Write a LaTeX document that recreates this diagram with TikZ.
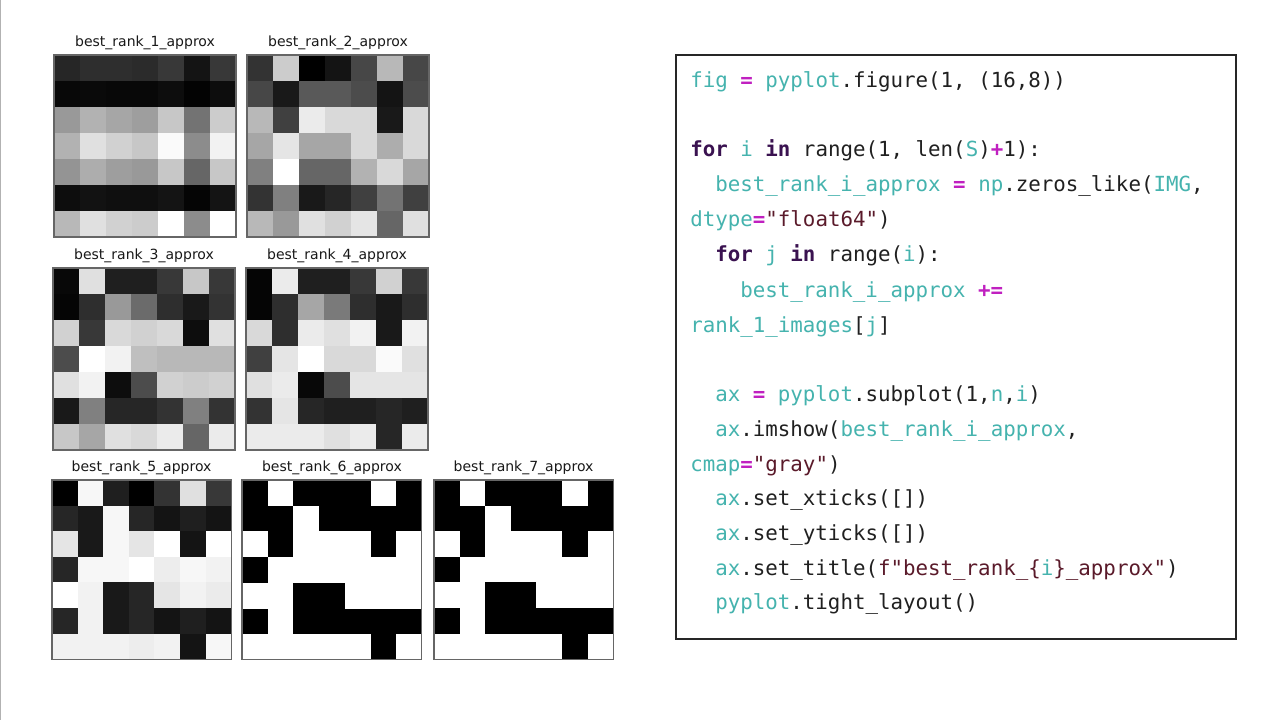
\documentclass[tikz,border=0pt]{standalone}
\usepackage{fontspec}
\setmainfont{DejaVu Sans}
\setmonofont{DejaVu Sans Mono}
\definecolor{cteal}{HTML}{45B3AE}
\definecolor{cmag}{HTML}{C020C0}
\definecolor{ckw}{HTML}{3A1250}
\definecolor{cstr}{HTML}{5A1A2A}
\definecolor{cpl}{HTML}{202020}
\newcommand\Tl[1]{\textcolor{cteal}{#1}}
\newcommand\Mg[1]{\textcolor{cmag}{\bfseries #1}}
\newcommand\Kw[1]{\textcolor{ckw}{\bfseries #1}}
\newcommand\Sr[1]{\textcolor{cstr}{#1}}
\newcommand\mygrid[6]{%
  \foreach \v [count=\k from 0] in {#6} {
    \pgfmathtruncatemacro\rr{\k/7}
    \pgfmathtruncatemacro\cc{mod(\k,7)}
    \pgfmathtruncatemacro\bb{100-\v}
    \fill[black!\bb] ({#3+\cc*#5},{#4+\rr*#5}) rectangle ({#3+(\cc+1)*#5},{#4+(\rr+1)*#5});
  }
  \node[gridframe, minimum width=7*#5*0.75pt, minimum height=7*#5*0.75pt] (#1) at ({#3+3.5*#5},{#4+3.5*#5}) {};
  \node[gtitle] (#1t) at ($(#1.north)+(0,-12)$) {#2};
}
\usetikzlibrary{calc}
\tikzset{
  gridframe/.style={draw=black!60, line width=0.8pt, inner sep=0pt},
  gtitle/.style={font=\fontsize{10.5pt}{12pt}\selectfont, text=black!90},
  code/.style={anchor=base west, inner sep=0pt, font=\ttfamily\fontsize{15.6pt}{18pt}\selectfont, text=cpl}
}
\begin{document}
\begin{tikzpicture}[x=0.75pt,y=-0.75pt]
\useasboundingbox (0,0) rectangle (1280,720);
\fill[white] (0,0) rectangle (1280,720);
\draw[black!30] (0.5,0) -- (0.5,720);
\mygrid{g1}{best\_rank\_1\_approx}{54}{55}{26}{15,18,18,17,22,8,22, 3,4,3,3,5,1,5, 60,70,65,62,78,45,80, 70,88,82,78,98,55,95, 58,68,62,60,78,40,78, 5,7,6,6,8,2,8, 72,88,82,80,100,55,100}
\mygrid{g2}{best\_rank\_2\_approx}{247}{55}{26}{20,80,0,8,28,72,28, 28,10,35,35,30,8,30, 72,25,92,85,85,10,85, 65,90,65,65,85,68,85, 50,100,40,40,70,85,65, 20,50,10,15,25,45,25, 72,60,88,82,90,40,88}
\mygrid{g3}{best\_rank\_3\_approx}{53}{268}{26}{3,88,12,12,22,78,22, 2,18,60,42,18,10,20, 82,22,85,82,85,5,88, 30,100,95,75,72,72,72, 88,95,5,30,82,80,82, 10,50,15,15,20,50,20, 78,65,88,85,92,40,92}
\mygrid{g4}{best\_rank\_4\_approx}{246}{268}{26}{2,92,12,12,22,82,22, 2,18,65,48,18,10,18, 85,18,92,88,95,10,95, 25,90,100,85,85,98,88, 88,92,3,30,90,90,90, 20,90,15,12,12,15,12, 92,92,92,88,92,15,92}
\mygrid{g5}{best\_rank\_5\_approx}{52}{480}{25.6}{0,97,12,0,20,88,22, 15,10,97,15,8,12,8, 90,10,97,90,100,8,100, 15,97,97,100,93,97,95, 100,95,10,15,90,95,92, 15,95,10,15,8,12,8, 95,95,95,93,95,8,97}
\mygrid{g6}{best\_rank\_6\_approx}{242}{480}{25.7}{0,100,0,0,0,100,0, 0,0,100,0,0,0,0, 100,0,100,100,100,0,100, 0,100,100,100,100,100,100, 100,100,0,0,100,100,100, 0,100,0,0,0,0,0, 100,100,100,100,100,0,100}
\mygrid{g7}{best\_rank\_7\_approx}{434}{480}{25.6}{0,100,0,0,0,100,0, 0,0,100,0,0,0,0, 100,0,100,100,100,0,100, 0,100,100,100,100,100,100, 100,100,0,0,100,100,100, 0,100,0,0,0,0,0, 100,100,100,100,100,0,100}
\node[draw=black!85, line width=0.9pt, minimum width=560*0.75pt, minimum height=584*0.75pt, inner sep=0pt] (codebox) at (956,347) {};
\node[code] (l1) at (690,88) {\Tl{fig} \Mg{=} \Tl{pyplot}.figure(1, (16,8))};
\node[code] (l2) at (690,157) {\Kw{for} \Tl{i} \Kw{in} range(1, len(\Tl{S})\Mg{+}1):};
\node[code] (l3) at (715,192) {\Tl{best\_rank\_i\_approx} \Mg{=} \Tl{np}.zeros\_like(\Tl{IMG},};
\node[code] (l4) at (690,227) {\Tl{dtype}\Mg{=}\Sr{"float64"})};
\node[code] (l5) at (715,262) {\Kw{for} \Tl{j} \Kw{in} range(\Tl{i}):};
\node[code] (l6) at (740,297) {\Tl{best\_rank\_i\_approx} \Mg{+=}};
\node[code] (l7) at (690,332) {\Tl{rank\_1\_images}[\Tl{j}]};
\node[code] (l8) at (715,401) {\Tl{ax} \Mg{=} \Tl{pyplot}.subplot(1,\Tl{n},\Tl{i})};
\node[code] (l9) at (715,436) {\Tl{ax}.imshow(\Tl{best\_rank\_i\_approx},};
\node[code] (l10) at (690,471) {\Tl{cmap}\Mg{=}\Sr{"gray"})};
\node[code] (l11) at (715,505) {\Tl{ax}.set\_xticks([])};
\node[code] (l12) at (715,540) {\Tl{ax}.set\_yticks([])};
\node[code] (l13) at (715,575) {\Tl{ax}.set\_title(\Sr{f"best\_rank\_\{}\Tl{i}\Sr{\}\_approx"})};
\node[code] (l14) at (715,609) {\Tl{pyplot}.tight\_layout()};
\end{tikzpicture}
\end{document}
